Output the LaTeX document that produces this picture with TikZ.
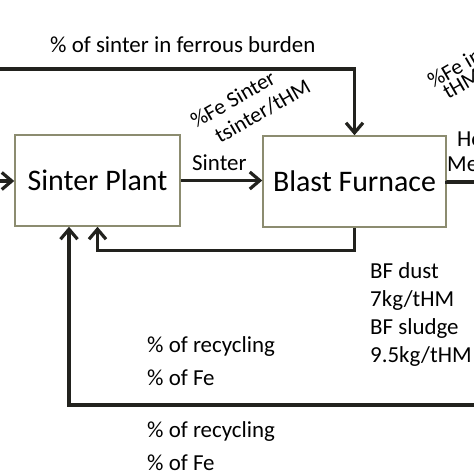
\documentclass[tikz,border=0pt]{standalone}
\usepackage{fontspec}
\setmainfont{Carlito}
\usetikzlibrary{arrows.meta}
\definecolor{boxline}{RGB}{140,140,112}
\definecolor{arrline}{RGB}{34,34,30}
\begin{document}
\begin{tikzpicture}[x=1bp,y=-1bp,
  unitbox/.style={draw=boxline, line width=1.5bp, fill=white, inner sep=0pt, minimum height=91bp, font=\fontsize{30}{34}\selectfont},
  flow/.style={draw=arrline, line width=3.2bp},
  arr/.style={flow, -{Straight Barb[length=10bp,width=17bp]}},
  lbl/.style={inner sep=0pt, anchor=base west, font=\fontsize{23}{27}\selectfont},
  rlbl/.style={inner sep=0pt, anchor=base west, rotate=30, font=\fontsize{22}{26}\selectfont}]
\useasboundingbox (0,0) rectangle (474,474);
\begin{scope}
\clip (0,0) rectangle (474,474);
% boxes
\node[unitbox, minimum width=165bp] (sp) at (97.5,180.5) {Sinter Plant};
\node[unitbox, minimum width=183bp] (bf) at (354.5,181.5) {Blast Furnace};
% free ends
\coordinate (topstart) at (-5,69);
\coordinate (leftstart) at (-5,181);
\coordinate (outend) at (480,182);
\coordinate (recstart) at (480,405);
% connectors
\draw[arr] (topstart) -| (bf.north);
\draw[arr] (leftstart) -- (leftstart -| sp.west);
\draw[arr] (sp.east) -- (sp.east -| bf.west);
\draw[flow] (bf.east) -- (bf.east |- outend) -- (outend);
\draw[arr] (bf.south) -- ++(0,22.5) -| (sp.south);
\draw[arr] (recstart) -| ([xshift=-28.5bp]sp.south);
% labels
\node[lbl] (ltop) at (50,53) {\% of sinter in ferrous burden};
\node[lbl] (lsinter) at (192,171) {Sinter};
\node[rlbl] (lfe1) at (196,129) {\%Fe Sinter};
\node[rlbl] (lfe2) at (220,144) {tsinter/tHM};
\node[rlbl] (lfe3) at (433,89) {\%Fe in};
\node[rlbl] (lfe4) at (448,100) {tHM};
\node[lbl] (lhot) at (457,147) {Hot};
\node[lbl] (lmetal) at (447,172) {Metal};
\node[lbl] (ld1) at (370,278) {BF dust};
\node[lbl] (ld2) at (370,306) {7kg/tHM};
\node[lbl] (ld3) at (370,334) {BF sludge};
\node[lbl] (ld4) at (370,362) {9.5kg/tHM};
\node[lbl] (lr1) at (147,352) {\% of recycling};
\node[lbl] (lr2) at (147,385) {\% of Fe};
\node[lbl] (lr3) at (147,437) {\% of recycling};
\node[lbl] (lr4) at (147,470) {\% of Fe};
\end{scope}
\end{tikzpicture}
\end{document}
